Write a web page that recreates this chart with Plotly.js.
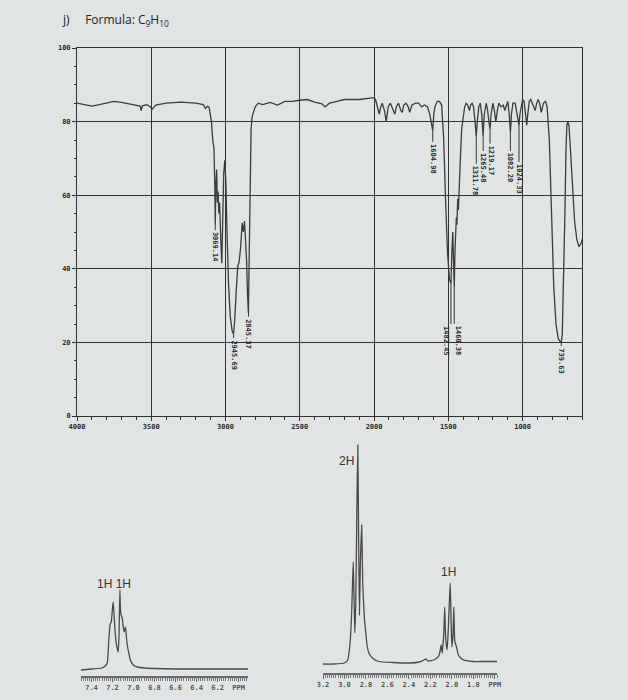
<!DOCTYPE html>
<html>
<head>
<meta charset="utf-8">
<script src="https://cdn.plot.ly/plotly-3.0.1.min.js"></script>
<style>
  html, body { margin: 0; padding: 0; background: #e1e4e5; }
  #chart { width: 628px; height: 700px; }
</style>
</head>
<body>
<div id="chart"></div>
<script>
// ---------- IR spectrum (wavenumber cm-1, % transmittance) ----------
const irWavenumber = [
  4000, 3950, 3900, 3850, 3800, 3750, 3700, 3650, 3600, 3575, 3568, 3560, 3530, 3505, 3495, 3470,
  3400, 3300, 3200, 3150, 3135, 3120, 3110, 3095, 3085, 3078, 3072, 3069, 3065, 3060, 3055, 3050,
  3045, 3040, 3032, 3025, 3018, 3012, 3005, 2998, 2990, 2980, 2968, 2955, 2946, 2938, 2928, 2918,
  2908, 2898, 2888, 2880, 2872, 2866, 2858, 2852, 2846, 2840, 2835, 2828, 2820, 2800, 2780, 2750,
  2700, 2650, 2600, 2550, 2500, 2450, 2400, 2350, 2330, 2300, 2250, 2200, 2100, 2050, 2000,
  1990, 1975, 1965, 1955, 1945, 1930, 1918, 1905, 1890, 1870, 1860, 1850, 1835, 1820, 1810, 1800,
  1785, 1770, 1760, 1745, 1720, 1700, 1680, 1660, 1640, 1625, 1615, 1605, 1598, 1590, 1575, 1560,
  1545, 1532, 1518, 1505, 1492, 1482, 1476, 1470, 1465, 1460, 1455, 1450, 1446, 1442, 1437, 1432,
  1426, 1418, 1410, 1400, 1390, 1380, 1370, 1358, 1350, 1340, 1330, 1320, 1312, 1305, 1295, 1285,
  1275, 1266, 1258, 1245, 1235, 1227, 1219, 1212, 1200, 1190, 1180, 1170, 1160, 1145, 1130, 1120,
  1110, 1100, 1090, 1082, 1075, 1065, 1050, 1040, 1030, 1024, 1018, 1010, 1000, 990, 980, 972,
  965, 955, 945, 935, 925, 915, 905, 895, 885, 875, 868, 860, 845, 835, 820, 805, 790, 775, 760,
  748, 740, 733, 725, 715, 708, 702, 695, 688, 680, 665, 650, 635, 620, 605, 600
];
const irTransmittance = [
  85, 84.5, 84.2, 84.6, 85, 85.5, 85.2, 84.8, 84.6, 84.2, 83, 84.3, 84.6, 84, 83.3, 84.5,
  85, 85.3, 85, 84.6, 83.6, 84.2, 83.8, 80, 74.5, 73, 62, 52, 63, 67, 58, 61,
  55, 58, 48, 41.5, 55, 66, 69.5, 64, 50, 36, 27, 23, 22.2, 26, 34, 40.5,
  42, 46, 52.5, 50, 53, 49, 42, 33, 28, 45, 65, 78, 81.5, 84, 85, 84.6,
  85.2, 84.5, 85.5, 85.5, 85.8, 86, 85.3, 84.8, 84, 85, 85.5, 86, 86, 86.2, 86.5,
  86, 84, 82, 84, 85, 83, 80, 84, 85, 83, 82, 84, 85, 83, 82.5, 84.5,
  85, 84, 82.5, 84.5, 85, 85, 84, 84.5, 84, 82, 80, 77.5, 82, 84, 85.5, 85.5,
  84.5, 76, 58, 44, 37, 36, 45, 50, 42, 35, 45, 49, 54, 52, 59, 56,
  64, 71, 78, 82, 84, 85, 84.5, 83, 84.5, 85, 84, 80, 76, 80, 84, 85,
  82, 76, 82, 85, 83, 80, 78, 82, 85, 83, 80, 83, 85, 84, 84.5, 83,
  84.5, 85.5, 82, 77, 82, 85, 85, 83, 80, 79, 82, 84, 86, 85.5, 82, 79,
  82, 85.5, 86, 85, 84, 83, 85, 86, 85, 82.5, 83.5, 85, 85.5, 84, 75, 55, 35, 25, 21,
  20.3, 20, 22, 35, 55, 72, 79, 80, 79, 74, 62, 53, 48, 46, 47, 48
];
const irPeakWavenumber = [3069.14, 2945.69, 2845.37, 1604.98, 1482.45, 1460.38, 1311.78, 1265.48, 1219.17, 1082.20, 1024.33, 739.63];
const irPeakTransmittance = [52, 22.2, 28, 77.5, 36, 35, 76, 76, 78, 77, 79, 20];
const irPeakLabels = ["3069.14", "2945.69", "2845.37", "1604.98", "1482.45", "1460.38", "1311.78", "1265.48", "1219.17", "1082.20", "1024.33", "739.63"];
const irXTicks = [4000, 3500, 3000, 2500, 2000, 1500, 1000];
const irYTicks = [0, 20, 40, 60, 80, 100];

// ---------- 1H NMR, aromatic region ----------
const nmrAroPpm = [7.50, 7.40, 7.30, 7.27, 7.25, 7.235, 7.222, 7.212, 7.20, 7.193, 7.185, 7.175, 7.16, 7.146, 7.138, 7.13,
  7.124, 7.118, 7.108, 7.10, 7.09, 7.076, 7.068, 7.055, 7.045, 7.03, 7.01, 6.99, 6.965, 6.90, 6.80, 6.60, 6.40, 6.20, 5.91];
const nmrAroInt = [0, 1, 2, 4, 7, 30, 46, 48, 62, 68, 55, 38, 24, 18, 35, 80,
  60, 55, 52, 45, 38, 43, 33, 22, 17, 10, 6, 4, 3, 2, 1.5, 1, 1, 1, 1];
const nmrAroTicks = [7.4, 7.2, 7.0, 6.8, 6.6, 6.4, 6.2, 6.0];
const nmrAroTickText = ["7.4", "7.2", "7.0", "6.8", "6.6", "6.4", "6.2", "PPM"];

// ---------- 1H NMR, aliphatic region ----------
const nmrAliPpm = [3.20, 3.10, 3.00, 2.97, 2.95, 2.935, 2.925, 2.918, 2.912, 2.904, 2.895, 2.885, 2.876, 2.868, 2.861, 2.852,
  2.84, 2.83, 2.815, 2.804, 2.79, 2.773, 2.74, 2.68, 2.55, 2.40, 2.30, 2.26, 2.243, 2.22, 2.17, 2.14,
  2.122, 2.11, 2.10, 2.09, 2.075, 2.067, 2.058, 2.045, 2.035, 2.024, 2.015, 2.007, 2.0, 1.99, 1.982, 1.975,
  1.97, 1.962, 1.955, 1.94, 1.925, 1.90, 1.864, 1.80, 1.70, 1.58];
const nmrAliInt = [-1, -1, 0, 3, 18, 45, 80, 101, 70, 30, 60, 150, 218, 120, 48, 100,
  138, 80, 45, 33, 18, 10, 5, 1.5, 0.5, 0, 1, 3, 4, 2, 3, 5,
  7, 12, 18, 10, 30, 56, 25, 13, 30, 60, 80, 40, 16, 28, 56, 25,
  20, 18, 15, 8, 6, 3.5, 2.3, 1.5, 1.5, 1.5];
const nmrAliTicks = [3.2, 3.0, 2.8, 2.6, 2.4, 2.2, 2.0, 1.8, 1.6];
const nmrAliTickText = ["3.2", "3.0", "2.8", "2.6", "2.4", "2.2", "2.0", "1.8", "PPM"];

const integrals = [
  {text: "1H 1H", x: 7.19, y: 86, ax: "x2", ay: "y2"},
  {text: "2H", x: 2.985, y: 202, ax: "x3", ay: "y3"},
  {text: "1H", x: 2.034, y: 91, ax: "x3", ay: "y3"}
];

// ---------- styling ----------
const ink = "#333333";
const bg = "#e1e4e5";
const monoBold = {family: "DejaVu Sans Mono, monospace", size: 7, color: "#2a2a2a", weight: 700};

// peak label styling: drop (in % units) between minimum and label, and small sideways nudge (px)
const labelDrop = [1.5, 1, 1, 3, 11, 10, 7.5, 4, 4, 5, 10, 1];
const labelNudge = [0, 0, 0, 0, -5, 4, -1, 0, 1, 0, 0, 0];

const traces = [
  {x: irWavenumber, y: irTransmittance, xaxis: "x", yaxis: "y", type: "scatter", mode: "lines",
   line: {color: "#3c3c3c", width: 1.3}, hoverinfo: "skip"},
  {x: nmrAroPpm, y: nmrAroInt, xaxis: "x2", yaxis: "y2", type: "scatter", mode: "lines",
   line: {color: "#4a4a4a", width: 1.3, shape: "spline", smoothing: 0.4}, hoverinfo: "skip"},
  {x: nmrAliPpm, y: nmrAliInt, xaxis: "x3", yaxis: "y3", type: "scatter", mode: "lines",
   line: {color: "#4a4a4a", width: 1.3, shape: "spline", smoothing: 0.4}, hoverinfo: "skip"}
];

// connectors from each labelled minimum down to its label
const connX = [], connY = [];
irPeakWavenumber.forEach((w, i) => {
  connX.push(w, w, null);
  connY.push(irPeakTransmittance[i], irPeakTransmittance[i] - labelDrop[i], null);
});
traces.push({x: connX, y: connY, xaxis: "x", yaxis: "y", type: "scatter", mode: "lines",
  line: {color: ink, width: 1}, hoverinfo: "skip"});

const annotations = [];
irPeakWavenumber.forEach((w, i) => {
  annotations.push({
    x: w, y: irPeakTransmittance[i] - labelDrop[i], xref: "x", yref: "y",
    text: irPeakLabels[i], showarrow: false, textangle: 90,
    xanchor: "center", yanchor: "top", xshift: labelNudge[i],
    font: monoBold
  });
});
integrals.forEach(t => {
  annotations.push({x: t.x, y: t.y, xref: t.ax, yref: t.ay, text: t.text, showarrow: false,
    xanchor: "center", yanchor: "middle",
    font: {family: "Liberation Sans, Arial, sans-serif", size: 12, color: "#333"}});
});
annotations.push({
  x: 60 / 628, y: 1 - 20 / 700, xref: "paper", yref: "paper", xanchor: "left", yanchor: "middle",
  showarrow: false, text: "j)&nbsp;&nbsp;&nbsp;&nbsp;&nbsp;Formula: C<sub>9</sub>H<sub>10</sub>",
  font: {family: "Open Sans, Liberation Sans, sans-serif", size: 12, color: "#222"}
});

const gridAxis = {
  showline: true, mirror: true, linecolor: ink, linewidth: 1,
  showgrid: true, gridcolor: ink, gridwidth: 1, zeroline: false,
  ticks: "outside", ticklen: 4, tickcolor: ink, tickwidth: 1,
  tickfont: monoBold, fixedrange: true
};

const rulerAxis = {
  showline: true, linecolor: "#6a6a6a", linewidth: 2, showgrid: false, zeroline: false,
  ticks: "outside", ticklen: 4, tickcolor: "#6a6a6a", tickwidth: 1,
  tickfont: {family: "DejaVu Sans Mono, monospace", size: 7, color: "#555", weight: 700},
  minor: {dtick: 0.02, ticks: "outside", ticklen: 3, tickcolor: "#7a7a7a", tickwidth: 1, showgrid: false},
  tickmode: "array", fixedrange: true
};

const layout = {
  width: 628, height: 700,
  margin: {l: 0, r: 0, t: 0, b: 0},
  paper_bgcolor: bg, plot_bgcolor: bg,
  showlegend: false,
  xaxis: Object.assign({}, gridAxis, {
    domain: [77 / 628, 582 / 628], range: [4000, 600], anchor: "y",
    tickmode: "array", tickvals: irXTicks, ticktext: irXTicks.map(String),
    minor: {dtick: 100, tick0: 0, ticks: "outside", ticklen: 2.5, tickcolor: ink, showgrid: false}
  }),
  yaxis: Object.assign({}, gridAxis, {
    domain: [1 - 416 / 700, 1 - 48 / 700], range: [0, 100], anchor: "x",
    tickmode: "array", tickvals: irYTicks, ticktext: irYTicks.map(String),
    minor: {dtick: 5, tick0: 0, ticks: "outside", ticklen: 2.5, tickcolor: ink, showgrid: false}
  }),
  xaxis2: Object.assign({}, rulerAxis, {
    domain: [81 / 628, 248 / 628], range: [7.5, 5.91], anchor: "y2",
    tickvals: nmrAroTicks, ticktext: nmrAroTickText
  }),
  yaxis2: {domain: [1 - 676 / 700, 1 - 575 / 700], range: [-6, 95], visible: false, anchor: "x2", fixedrange: true},
  xaxis3: Object.assign({}, rulerAxis, {
    domain: [323 / 628, 497 / 628], range: [3.2, 1.58], anchor: "y3",
    tickvals: nmrAliTicks, ticktext: nmrAliTickText
  }),
  yaxis3: {domain: [1 - 673 / 700, 1 - 438 / 700], range: [-10, 225], visible: false, anchor: "x3", fixedrange: true},
  annotations: annotations
};

Plotly.newPlot("chart", traces, layout, {displayModeBar: false, responsive: false});
</script>
</body>
</html>
